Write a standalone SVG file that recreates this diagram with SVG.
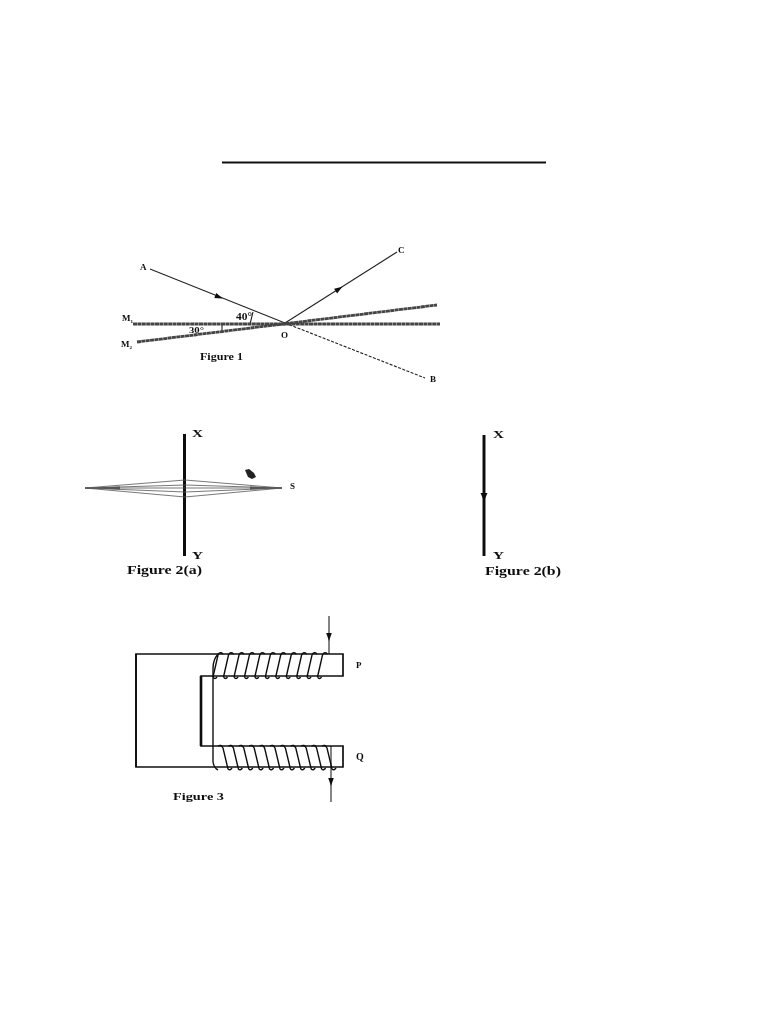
<svg xmlns="http://www.w3.org/2000/svg" width="768" height="1024" viewBox="0 0 768 1024">
<style>
text{font-family:"Liberation Serif","Times New Roman",serif;fill:#111}
.f{font-weight:bold;font-size:12px}
.l{font-weight:bold;font-size:9px}
.x{font-weight:bold;font-size:11px}
.ln{fill:none;stroke:#222;stroke-width:1.100}
.core{fill:none;stroke:#111;stroke-width:1.700}
.coil{fill:none;stroke:#111;stroke-width:1.400}
.mir{fill:none;stroke:#444;stroke-width:2.800;stroke-dasharray:4 .4}
.lens{fill:none;stroke:#555;stroke-width:.8}
.rod{fill:none;stroke:#111;stroke-width:3}
</style>
<defs>
<filter id="s" x="-5%" y="-5%" width="110%" height="110%"><feGaussianBlur stdDeviation="0.4"/></filter>
<path id="head" d="M-4,-2.800 L4,0 L-4,2.800 Z" fill="#111"/>
<path id="t1" class="coil" d="M-5,677 L0,655 Q2,651 5,654 M-5,677 Q-3,680 -1,677"/>
<path id="t2" class="coil" d="M5,769 L0,748 Q-2,744 -5,746 M5,769 Q7,771 9,768"/>
</defs>
<rect width="768" height="1024" fill="#fff"/>
<g filter="url(#s)">
<g id="title-rule"><path d="M222,162.500 H546" stroke="#111" stroke-width="2" fill="none"/></g>

<g id="connectors">
<path class="ln" d="M150,269 L285,323"/>
<path class="ln" d="M285,323 L397,252"/>
<path class="ln" d="M285,323 L425,378" stroke-dasharray="3 1.500"/>
<path class="ln" d="M253,312 L250,324 M222,324 V333"/>
<use href="#head" transform="translate(219,297) rotate(21.800)"/>
<use href="#head" transform="translate(339,289) rotate(-32.400)"/>
<path class="ln" d="M329,616 V654"/>
<use href="#head" transform="translate(329,637) rotate(90)"/>
<path class="ln" d="M331,746 V802"/>
<use href="#head" transform="translate(331,782) rotate(90)"/>
</g>

<g id="figure-1">
<path class="mir" d="M133,324 H440"/>
<path class="mir" d="M137,342 L437,305"/>
<text class="l" x="122" y="321">M<tspan font-size="5" dy="2">1</tspan></text>
<text class="l" x="121" y="347">M<tspan font-size="5" dy="2">2</tspan></text>
<text class="l" x="140" y="270">A</text>
<text class="l" x="398" y="253">C</text>
<text class="l" x="430" y="382">B</text>
<text class="l" x="281" y="338">O</text>
<text class="l" style="font-size:10px" x="236" y="320" textLength="16" lengthAdjust="spacingAndGlyphs">40°</text>
<text class="l" style="font-size:9px" x="189" y="333" textLength="15" lengthAdjust="spacingAndGlyphs">30°</text>
<text class="f" style="font-size:9.500px" x="200" y="360" textLength="43" lengthAdjust="spacingAndGlyphs">Figure 1</text>
</g>

<g id="figure-2a">
<path class="rod" d="M184.500,434 V556"/>
<path class="lens" d="M85,488 L185,480 L282,488 L185,497 Z M85,488 L185,485 L282,488 L185,492 Z M85,488 H282"/>
<path d="M85,488 L120,486.500 V489.500 Z M282,488 L250,486.500 V489.500 Z" fill="#555"/>
<path d="M245,470 L249,469 L254,473 L256,477 L252,479 L248,477 Z" fill="#222"/>
<text class="x" x="192" y="437" textLength="11" lengthAdjust="spacingAndGlyphs">X</text>
<text class="x" x="192" y="559" textLength="11" lengthAdjust="spacingAndGlyphs">Y</text>
<text class="l" x="290" y="489">S</text>
<text class="f" x="127" y="574" textLength="75" lengthAdjust="spacingAndGlyphs">Figure 2(a)</text>
</g>

<g id="figure-2b">
<path class="rod" d="M484,435 V556"/>
<path d="M480.500,493 H487.500 L484,501 Z" fill="#111"/>
<text class="x" x="493" y="438" textLength="11" lengthAdjust="spacingAndGlyphs">X</text>
<text class="x" x="493" y="559" textLength="11" lengthAdjust="spacingAndGlyphs">Y</text>
<text class="f" x="485" y="575" textLength="76" lengthAdjust="spacingAndGlyphs">Figure 2(b)</text>
</g>

<g id="figure-3">
<path class="core" d="M213,654 H136 V767 H213"/>
<path class="core" d="M136,654 V767" stroke-width="2.200"/>
<path class="core" d="M213,654 H343 V676 H201 V746 H343 V767 H213"/>
<path d="M201,676 V746" fill="none" stroke="#111" stroke-width="2.600"/>
<path class="coil" d="M218,654 Q213,660 213,668 V762 Q214,768 218,770"/>
<use href="#t1" x="218"/><use href="#t1" x="228.500"/><use href="#t1" x="239"/><use href="#t1" x="249.400"/><use href="#t1" x="259.800"/><use href="#t1" x="270.300"/><use href="#t1" x="280.700"/><use href="#t1" x="291.200"/><use href="#t1" x="301.600"/><use href="#t1" x="312"/><use href="#t1" x="322.500"/>
<use href="#t2" x="223"/><use href="#t2" x="233.400"/><use href="#t2" x="243.800"/><use href="#t2" x="254.200"/><use href="#t2" x="264.600"/><use href="#t2" x="275"/><use href="#t2" x="285.400"/><use href="#t2" x="295.800"/><use href="#t2" x="306.200"/><use href="#t2" x="316.600"/><use href="#t2" x="327"/>
<text class="l" x="356" y="668">P</text>
<text class="l" style="font-size:10px" x="356" y="760">Q</text>
<text class="f" style="font-size:10.500px" x="173" y="800" textLength="51" lengthAdjust="spacingAndGlyphs">Figure 3</text>
</g>
</g>
</svg>
